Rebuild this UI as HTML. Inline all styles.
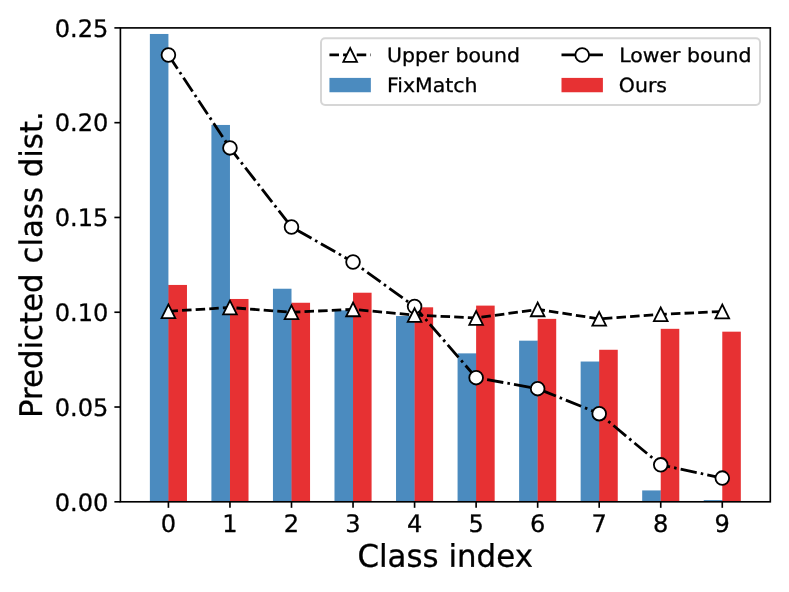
<!DOCTYPE html><html><head><meta charset="utf-8"><title>Predicted class distribution</title>
<style>html,body{margin:0;padding:0;background:#fff}svg{display:block}text{font-family:"DejaVu Sans","Liberation Sans",sans-serif;fill:#000;stroke:#000;stroke-width:0.3px;stroke-linejoin:round;text-rendering:geometricPrecision}</style></head><body>
<svg width="789" height="592" viewBox="0 0 789 592">
<rect width="789" height="592" fill="#fff"/>
<g shape-rendering="auto">
<rect x="149.87" y="33.97" width="18.55" height="467.83" fill="#4b8bbf"/>
<rect x="168.22" y="284.94" width="0.9" height="216.86" fill="#4b8bbf"/>
<rect x="168.42" y="284.94" width="18.55" height="216.86" fill="#e73133"/>
<rect x="211.41" y="124.95" width="18.55" height="376.85" fill="#4b8bbf"/>
<rect x="229.76" y="298.97" width="0.9" height="202.83" fill="#4b8bbf"/>
<rect x="229.96" y="298.97" width="18.55" height="202.83" fill="#e73133"/>
<rect x="272.95" y="288.73" width="18.55" height="213.07" fill="#4b8bbf"/>
<rect x="291.30" y="302.76" width="0.9" height="199.04" fill="#4b8bbf"/>
<rect x="291.50" y="302.76" width="18.55" height="199.04" fill="#e73133"/>
<rect x="334.49" y="310.34" width="18.55" height="191.46" fill="#4b8bbf"/>
<rect x="352.84" y="310.34" width="0.9" height="191.46" fill="#4b8bbf"/>
<rect x="353.04" y="292.72" width="18.55" height="209.08" fill="#e73133"/>
<rect x="396.03" y="316.03" width="18.55" height="185.77" fill="#4b8bbf"/>
<rect x="414.38" y="316.03" width="0.9" height="185.77" fill="#4b8bbf"/>
<rect x="414.58" y="307.31" width="18.55" height="194.49" fill="#e73133"/>
<rect x="457.57" y="353.37" width="18.55" height="148.43" fill="#4b8bbf"/>
<rect x="475.92" y="353.37" width="0.9" height="148.43" fill="#4b8bbf"/>
<rect x="476.12" y="305.61" width="18.55" height="196.19" fill="#e73133"/>
<rect x="519.11" y="340.67" width="18.55" height="161.13" fill="#4b8bbf"/>
<rect x="537.46" y="340.67" width="0.9" height="161.13" fill="#4b8bbf"/>
<rect x="537.66" y="318.87" width="18.55" height="182.93" fill="#e73133"/>
<rect x="580.65" y="361.53" width="18.55" height="140.27" fill="#4b8bbf"/>
<rect x="599.00" y="361.53" width="0.9" height="140.27" fill="#4b8bbf"/>
<rect x="599.20" y="349.77" width="18.55" height="152.03" fill="#e73133"/>
<rect x="642.19" y="490.43" width="18.55" height="11.37" fill="#4b8bbf"/>
<rect x="660.54" y="490.43" width="0.9" height="11.37" fill="#4b8bbf"/>
<rect x="660.74" y="328.83" width="18.55" height="172.97" fill="#e73133"/>
<rect x="703.73" y="500.09" width="18.55" height="1.71" fill="#4b8bbf"/>
<rect x="722.08" y="500.09" width="0.9" height="1.71" fill="#4b8bbf"/>
<rect x="722.28" y="331.67" width="18.55" height="170.13" fill="#e73133"/>
</g>
<polyline points="168.42,55.01 229.96,147.89 291.50,226.94 353.04,262.01 414.58,306.55 476.12,377.64 537.66,388.63 599.20,413.65 660.74,464.84 722.28,478.11" fill="none" stroke="#000" stroke-width="2.80" stroke-dasharray="16.46 4.12 2.57 4.12"/>
<circle cx="168.42" cy="55.01" r="6.85" fill="#fff" stroke="#000" stroke-width="1.80"/>
<circle cx="229.96" cy="147.89" r="6.85" fill="#fff" stroke="#000" stroke-width="1.80"/>
<circle cx="291.50" cy="226.94" r="6.85" fill="#fff" stroke="#000" stroke-width="1.80"/>
<circle cx="353.04" cy="262.01" r="6.85" fill="#fff" stroke="#000" stroke-width="1.80"/>
<circle cx="414.58" cy="306.55" r="6.85" fill="#fff" stroke="#000" stroke-width="1.80"/>
<circle cx="476.12" cy="377.64" r="6.85" fill="#fff" stroke="#000" stroke-width="1.80"/>
<circle cx="537.66" cy="388.63" r="6.85" fill="#fff" stroke="#000" stroke-width="1.80"/>
<circle cx="599.20" cy="413.65" r="6.85" fill="#fff" stroke="#000" stroke-width="1.80"/>
<circle cx="660.74" cy="464.84" r="6.85" fill="#fff" stroke="#000" stroke-width="1.80"/>
<circle cx="722.28" cy="478.11" r="6.85" fill="#fff" stroke="#000" stroke-width="1.80"/>
<polyline points="168.42,311.29 229.96,307.50 291.50,312.24 353.04,309.40 414.58,315.08 476.12,317.93 537.66,309.40 599.20,318.87 660.74,314.33 722.28,311.48" fill="none" stroke="#000" stroke-width="2.80" stroke-dasharray="9.52 4.12"/>
<path d="M168.42 304.44 L161.57 318.14 L175.27 318.14 Z" fill="#fff" stroke="#000" stroke-width="1.80" stroke-linejoin="miter"/>
<path d="M229.96 300.65 L223.11 314.35 L236.81 314.35 Z" fill="#fff" stroke="#000" stroke-width="1.80" stroke-linejoin="miter"/>
<path d="M291.50 305.39 L284.65 319.09 L298.35 319.09 Z" fill="#fff" stroke="#000" stroke-width="1.80" stroke-linejoin="miter"/>
<path d="M353.04 302.55 L346.19 316.25 L359.89 316.25 Z" fill="#fff" stroke="#000" stroke-width="1.80" stroke-linejoin="miter"/>
<path d="M414.58 308.23 L407.73 321.93 L421.43 321.93 Z" fill="#fff" stroke="#000" stroke-width="1.80" stroke-linejoin="miter"/>
<path d="M476.12 311.08 L469.27 324.78 L482.97 324.78 Z" fill="#fff" stroke="#000" stroke-width="1.80" stroke-linejoin="miter"/>
<path d="M537.66 302.55 L530.81 316.25 L544.51 316.25 Z" fill="#fff" stroke="#000" stroke-width="1.80" stroke-linejoin="miter"/>
<path d="M599.20 312.02 L592.35 325.72 L606.05 325.72 Z" fill="#fff" stroke="#000" stroke-width="1.80" stroke-linejoin="miter"/>
<path d="M660.74 307.48 L653.89 321.18 L667.59 321.18 Z" fill="#fff" stroke="#000" stroke-width="1.80" stroke-linejoin="miter"/>
<path d="M722.28 304.63 L715.43 318.33 L729.13 318.33 Z" fill="#fff" stroke="#000" stroke-width="1.80" stroke-linejoin="miter"/>
<rect x="120.4" y="27.9" width="649.90" height="473.90" fill="none" stroke="#000" stroke-width="1.65"/>
<line x1="168.42" y1="501.8" x2="168.42" y2="507.82" stroke="#000" stroke-width="1.65"/>
<text x="168.42" y="532" font-size="24.1" text-anchor="middle">0</text>
<line x1="229.96" y1="501.8" x2="229.96" y2="507.82" stroke="#000" stroke-width="1.65"/>
<text x="229.96" y="532" font-size="24.1" text-anchor="middle">1</text>
<line x1="291.50" y1="501.8" x2="291.50" y2="507.82" stroke="#000" stroke-width="1.65"/>
<text x="291.50" y="532" font-size="24.1" text-anchor="middle">2</text>
<line x1="353.04" y1="501.8" x2="353.04" y2="507.82" stroke="#000" stroke-width="1.65"/>
<text x="353.04" y="532" font-size="24.1" text-anchor="middle">3</text>
<line x1="414.58" y1="501.8" x2="414.58" y2="507.82" stroke="#000" stroke-width="1.65"/>
<text x="414.58" y="532" font-size="24.1" text-anchor="middle">4</text>
<line x1="476.12" y1="501.8" x2="476.12" y2="507.82" stroke="#000" stroke-width="1.65"/>
<text x="476.12" y="532" font-size="24.1" text-anchor="middle">5</text>
<line x1="537.66" y1="501.8" x2="537.66" y2="507.82" stroke="#000" stroke-width="1.65"/>
<text x="537.66" y="532" font-size="24.1" text-anchor="middle">6</text>
<line x1="599.20" y1="501.8" x2="599.20" y2="507.82" stroke="#000" stroke-width="1.65"/>
<text x="599.20" y="532" font-size="24.1" text-anchor="middle">7</text>
<line x1="660.74" y1="501.8" x2="660.74" y2="507.82" stroke="#000" stroke-width="1.65"/>
<text x="660.74" y="532" font-size="24.1" text-anchor="middle">8</text>
<line x1="722.28" y1="501.8" x2="722.28" y2="507.82" stroke="#000" stroke-width="1.65"/>
<text x="722.28" y="532" font-size="24.1" text-anchor="middle">9</text>
<line x1="114.38" y1="501.80" x2="120.4" y2="501.80" stroke="#000" stroke-width="1.65"/>
<text x="108.3" y="511" font-size="24.1" text-anchor="end">0.00</text>
<line x1="114.38" y1="407.02" x2="120.4" y2="407.02" stroke="#000" stroke-width="1.65"/>
<text x="108.3" y="416" font-size="24.1" text-anchor="end">0.05</text>
<line x1="114.38" y1="312.24" x2="120.4" y2="312.24" stroke="#000" stroke-width="1.65"/>
<text x="108.3" y="321" font-size="24.1" text-anchor="end">0.10</text>
<line x1="114.38" y1="217.46" x2="120.4" y2="217.46" stroke="#000" stroke-width="1.65"/>
<text x="108.3" y="226" font-size="24.1" text-anchor="end">0.15</text>
<line x1="114.38" y1="122.68" x2="120.4" y2="122.68" stroke="#000" stroke-width="1.65"/>
<text x="108.3" y="131" font-size="24.1" text-anchor="end">0.20</text>
<line x1="114.38" y1="27.90" x2="120.4" y2="27.90" stroke="#000" stroke-width="1.65"/>
<text x="108.3" y="37" font-size="24.1" text-anchor="end">0.25</text>
<text transform="translate(445.2 566.8) rotate(0.03) scale(0.9955 1.005)" font-size="31.0" text-anchor="middle">Class index</text>
<text transform="translate(42.0 264.6) rotate(-90) scale(0.994 1.005)" font-size="31.0" text-anchor="middle">Predicted class dist.</text>
<rect x="321.0" y="38.15" width="439.00" height="66.80" rx="4.1" ry="4.1" fill="#fff" fill-opacity="0.8" stroke="#ccc" stroke-opacity="0.8" stroke-width="2.0"/>
<line x1="329.45" y1="54.95" x2="370.85" y2="54.95" stroke="#000" stroke-width="2.80" stroke-dasharray="9.52 4.12"/>
<path d="M350.15 48.10 L343.30 61.80 L357.00 61.80 Z" fill="#fff" stroke="#000" stroke-width="1.80" stroke-linejoin="miter"/>
<line x1="561.5" y1="54.95" x2="602.9" y2="54.95" stroke="#000" stroke-width="2.80" stroke-dasharray="16.46 4.12 2.57 4.12"/>
<circle cx="582.20" cy="54.95" r="6.85" fill="#fff" stroke="#000" stroke-width="1.80"/>
<rect x="329.45" y="77.9" width="41.40" height="14.35" fill="#4b8bbf"/>
<rect x="561.5" y="77.9" width="41.40" height="14.35" fill="#e73133"/>
<text transform="translate(387.0 62.0) scale(0.994 0.95)" font-size="20.6">Upper bound</text>
<text transform="translate(387.0 92.0) scale(0.994 0.95)" font-size="20.6">FixMatch</text>
<text transform="translate(619.2 62.0) scale(0.994 0.95)" font-size="20.6">Lower bound</text>
<text transform="translate(618.8 92.0) scale(0.994 0.95)" font-size="20.6">Ours</text>
</svg></body></html>
